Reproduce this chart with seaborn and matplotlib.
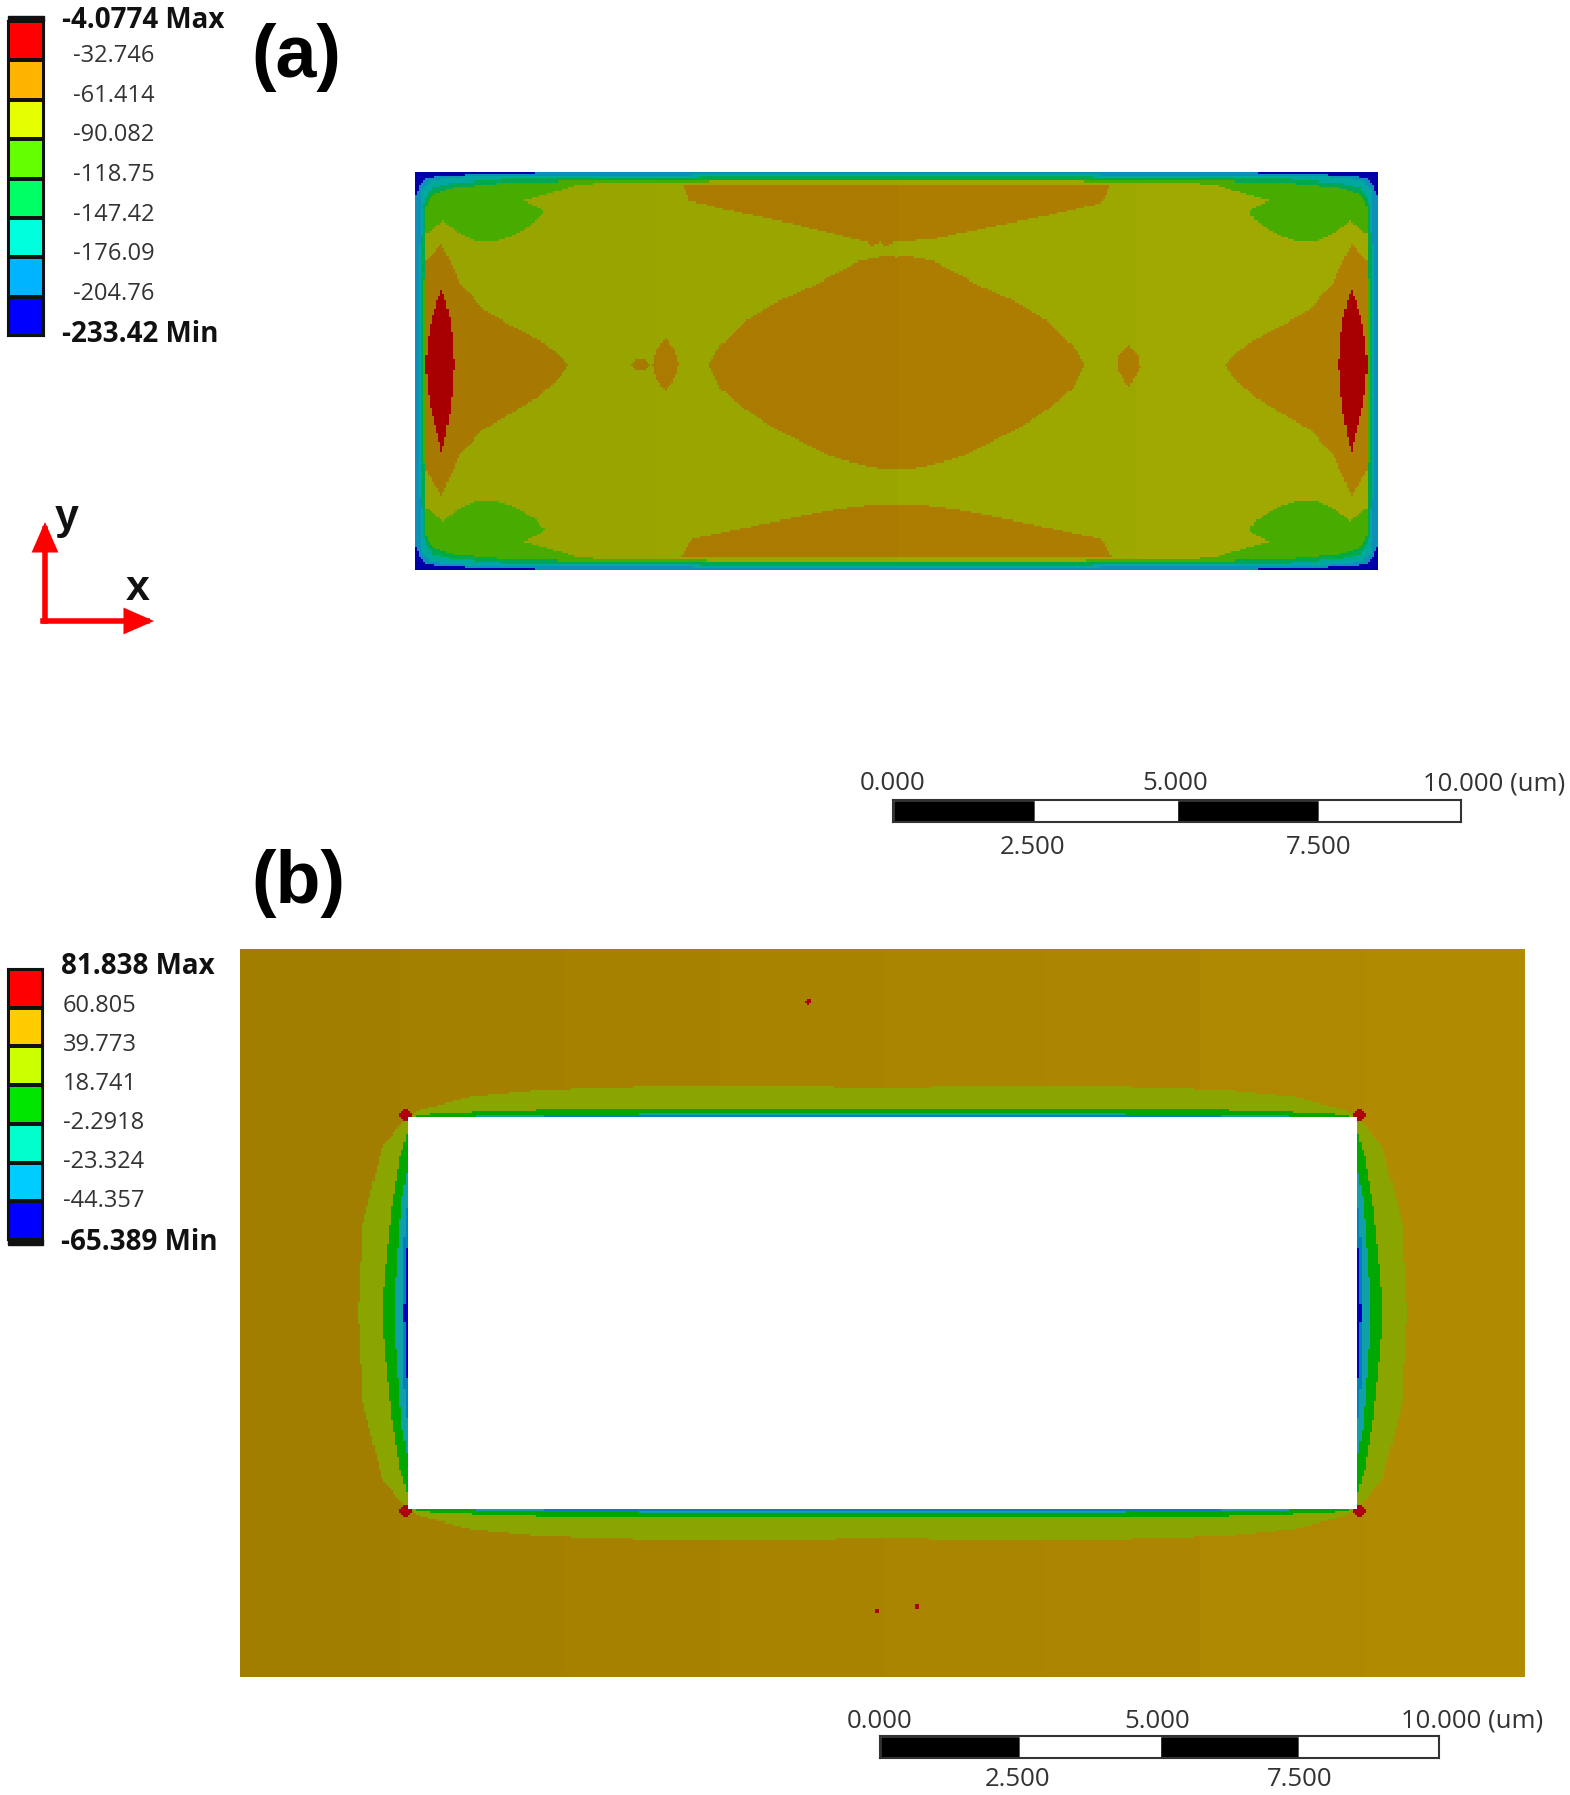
import numpy as np
import seaborn as sns
import matplotlib
matplotlib.use('Agg')
import matplotlib.pyplot as plt
from matplotlib.colors import ListedColormap
from matplotlib.patches import Rectangle
from matplotlib.path import Path

sns.set_theme(style='white')
plt.rcParams['font.family'] = ['Open Sans', 'DejaVu Sans']

# legends
a_legend_labels = ['-4.0774 Max', '-32.746', '-61.414', '-90.082', '-118.75', '-147.42', '-176.09', '-204.76', '-233.42 Min']
a_legend_colors = ['#ff0000', '#ffb400', '#e6ff00', '#64ff00', '#00ff64', '#00ffdc', '#00b4ff', '#0000ff']
b_legend_labels = ['81.838 Max', '60.805', '39.773', '18.741', '-2.2918', '-23.324', '-44.357', '-65.389 Min']
b_legend_colors = ['#ff0000', '#ffcc00', '#ccff00', '#00e600', '#00ffcc', '#00ccff', '#0000ff']

# scale bars
scale_ticks = [0, 2.5, 5, 7.5]
scale_labels = ['0.000', '2.500', '5.000', '7.500', '10.000 (um)']

# panel a, stress bands as displayed, um from the top left of the film
a_w, a_h = 17.0, 7.0
a_colors = ['#0000a8', '#0c90b8', '#00a8a0', '#00a850', '#48ab00', '#98a400', '#a87900', '#a80000',
            '#9aa600', '#9ca700', '#9fa900', '#aa7b00', '#ac7d00', '#ae7f00']
a_tone_edges = [4.25, 8.5, 12.75]
a_ring1 = [(8.5, -.05), (2.2, -.05), (2.1, .03), (1.0, .05), (.4, .08), (.2, .12), (.08, .25), (.03, .4), (-.05, .5), (-.05, 3.5)]
a_ring2 = [(8.5, .05), (2.0, .06), (1.0, .08), (.5, .12), (.25, .16), (.13, .28), (.1, .5), (.07, 3.5)]
a_ring3 = [(8.5, .08), (3, .1), (1.5, .13), (.6, .2), (.3, .28), (.17, .5), (.13, 1), (.12, 3.5)]
a_ring4 = [(8.5, .13), (3, .15), (1.5, .2), (.7, .27), (.3, .4), (.2, .6), (.17, 1.1), (.16, 3.5)]
a_olive = [(8.5, .16), (3.5, .17), (2.85, .235), (1.94, .5), (2.3, .7), (2.09, .91), (1.74, 1.12), (1.44, 1.22),
           (1.09, 1.22), (.74, 1.06), (.5, .85), (.2, 1.09), (.19, 2.15), (.18, 3.5)]
a_top_lobe = [(4.735, .21), (4.82, .5), (5.6, .68), (6.8, .94), (8.0, 1.24), (8.09, 1.31), (8.2, 1.22), (8.3, 1.31),
              (8.45, 1.24), (9.2, 1.17), (10, 1.0), (11, .8), (12.1, .55), (12.2, .42), (12.27, .21)]
a_bottom_lobe = [(4.7, 6.77), (4.75, 6.7), (4.85, 6.47), (6.2, 6.18), (7.38, 5.94), (8.09, 5.85), (8.5, 5.85)]
a_lens = [(5.18, 3.38), (5.38, 3.06), (5.85, 2.62), (6.32, 2.32), (7.09, 1.97), (7.85, 1.56), (8.38, 1.47), (8.5, 1.5)]
a_lens_low = [(5.18, 3.38), (5.38, 3.8), (5.8, 4.15), (6.32, 4.5), (7.32, 5.0), (8.09, 5.2), (8.5, 5.22)]
a_wedge = [(.47, 1.26), (.79, 1.94), (1.2, 2.41), (1.5, 2.59), (2.32, 3.03), (2.7, 3.38), (2.56, 3.62), (2.15, 3.97),
           (1.62, 4.29), (1.2, 4.53), (.79, 4.97), (.47, 5.7), (.2, 5.26), (.19, 3.58), (.2, 1.56)]
a_core = [(.47, 2.06), (.55, 2.3), (.62, 2.6), (.67, 3.0), (.69, 3.38), (.67, 3.8), (.62, 4.2), (.55, 4.6), (.47, 4.94),
          (.39, 4.6), (.29, 4.2), (.22, 3.8), (.19, 3.38), (.22, 3.0), (.29, 2.6), (.38, 2.3)]
a_dot1 = [(3.82, 3.39), (3.9, 3.3), (4.05, 3.29), (4.15, 3.38), (4.05, 3.48), (3.9, 3.49)]
a_dot2 = [(4.42, 2.91), (4.26, 3.15), (4.2, 3.38), (4.26, 3.65), (4.42, 3.85), (4.59, 3.62), (4.66, 3.38), (4.59, 3.15)]
a_dot3 = [(12.6, 3.04), (12.4, 3.25), (12.39, 3.45), (12.6, 3.79), (12.8, 3.45), (12.78, 3.25)]

# panel b, substrate around the film
b_w, b_h = 23.0, 13.0
b_colors = ['#a27e00', '#8aa400', '#00a800', '#10a0a8', '#0080c0', '#0000c0', '#b00010',
            '#a48000', '#a68100', '#a88300', '#aa8500', '#ac8600', '#ae8800', '#b08a00']
b_tone_edges = [2.9, 5.8, 8.6, 11.5, 14.4, 17.2, 20.1]
b_hole = (3.0, 20.0, 3.0, 10.0)
b_ring1 = [(11.5, 2.48), (9.5, 2.44), (7.13, 2.46), (5.34, 2.52), (4.15, 2.64), (3.2, 2.88), (2.97, 3.02), (2.84, 3.18),
           (2.54, 3.54), (2.36, 4.25), (2.2, 4.9), (2.15, 5.92), (2.12, 6.5)]
b_ring2 = [(11.5, 2.84), (6.5, 2.85), (4.75, 2.88), (3.44, 2.94), (3.0, 3.0), (2.98, 3.3), (2.87, 3.72), (2.72, 4.6),
           (2.58, 5.92), (2.55, 6.5)]
b_ring3 = [(11.5, 2.93), (5.46, 2.95), (3.5, 3.0), (3.0, 3.9), (2.95, 4.2), (2.9, 4.43), (2.79, 5.92), (2.77, 6.5)]
b_ring4 = [(11.5, 2.97), (6, 2.97), (4.5, 3.0), (3.0, 4.4), (2.94, 5.2), (2.92, 6.5)]
b_ring5 = [(11.5, 3.0), (3.0, 3.0), (3.0, 5.0), (2.96, 5.7), (2.94, 6.5)]
b_spot_x = [2.97, 20.03, 2.97, 20.03, 10.18, 11.41, 12.11]
b_spot_y = [2.97, 2.97, 10.03, 10.03, .94, 11.82, 11.74]
b_spot_r = [.13, .13, .13, .13, .06, .06, .05]

FIG_W, FIG_H = 1570, 1795
CELLS = 27


def ring(q, w, h):
    # quarter outline, center top to center left, mirrored to the other three
    return (q + [(x, h - y) for x, y in q[::-1]] + [(w - x, h - y) for x, y in q]
            + [(w - x, y) for x, y in q[::-1]])


def mirror(half, w):
    return half + [(w - x, y) for x, y in half[::-1]]


def make_grid(w, h):
    nx, ny = int(w * CELLS), int(h * CELLS)
    xx, yy = np.meshgrid((np.arange(nx) + .5) / CELLS, (np.arange(ny) + .5) / CELLS)
    return xx, yy, np.zeros((ny, nx))


def paint(grid, xx, yy, outline, level):
    pts = np.column_stack([xx.ravel(), yy.ravel()])
    grid[Path(outline).contains_points(pts).reshape(grid.shape)] = level


def px_axes(fig, x0, x1, y0, y1):
    return fig.add_axes([x0 / FIG_W, 1 - y1 / FIG_H, (x1 - x0) / FIG_W, (y1 - y0) / FIG_H])


def stress_map(ax, grid, colors, mask=None):
    sns.heatmap(grid, ax=ax, cmap=ListedColormap(colors), vmin=-.5, vmax=len(colors) - .5, cbar=False,
                xticklabels=False, yticklabels=False, mask=mask)


def legend_bar(fig, colors, x0, x1, y0, y1):
    ax = px_axes(fig, x0, x1, y0, y1)
    sns.heatmap(np.arange(len(colors)).reshape(-1, 1), ax=ax, cmap=ListedColormap(colors), cbar=False,
                xticklabels=False, yticklabels=False, linewidths=1.5, linecolor='#111111')
    for s in ax.spines.values():
        s.set_visible(True)
        s.set_color('#111111')
        s.set_linewidth(1.5)


def scale_bar(fig, x0, x1, y0, y1):
    ax = px_axes(fig, x0, x1, y0, y1)
    ax.barh([0] * 4, [2.5] * 4, left=scale_ticks, height=1, color=['black', 'white', 'black', 'white'])
    ax.set_xlim(0, 10)
    ax.set_ylim(-.5, .5)
    ax.set_xticks([])
    ax.set_yticks([])
    for s in ax.spines.values():
        s.set_visible(True)
        s.set_color('#333333')
        s.set_linewidth(1.5)


fig = plt.figure(figsize=(FIG_W / 100, FIG_H / 100), dpi=100)
fig.patch.set_facecolor('white')

# panel a map
xx, yy, grid = make_grid(a_w, a_h)
for level, q in enumerate([a_ring1, a_ring2, a_ring3, a_ring4, a_olive], start=1):
    paint(grid, xx, yy, ring(q, a_w, a_h), level)
paint(grid, xx, yy, a_top_lobe, 6)
paint(grid, xx, yy, mirror(a_bottom_lobe, a_w), 6)
paint(grid, xx, yy, mirror(a_lens, a_w) + [(a_w - x, y) for x, y in a_lens_low[1:]] + [(x, y) for x, y in a_lens_low[:0:-1]], 6)
paint(grid, xx, yy, a_wedge, 6)
paint(grid, xx, yy, [(a_w - x, y) for x, y in a_wedge], 6)
paint(grid, xx, yy, a_dot1, 6)
paint(grid, xx, yy, a_dot2, 6)
paint(grid, xx, yy, a_dot3, 6)
paint(grid, xx, yy, a_core, 7)
paint(grid, xx, yy, [(a_w - x, y) for x, y in a_core], 7)
# colours drift a little lighter to the right
for i, edge in enumerate(a_tone_edges):
    grid[np.isin(grid, [5, 8, 9, 10]) & (xx > edge)] = 8 + i
    grid[np.isin(grid, [6, 11, 12, 13]) & (xx > edge)] = 11 + i
stress_map(px_axes(fig, 415, 1378, 172, 570), grid, a_colors)

# panel b map
xx, yy, grid = make_grid(b_w, b_h)
for i, edge in enumerate(b_tone_edges):
    grid[xx > edge] = 7 + i
for level, q in enumerate([b_ring1, b_ring2, b_ring3, b_ring4, b_ring5], start=1):
    paint(grid, xx, yy, ring(q, b_w, b_h), level)
for x, y, r in zip(b_spot_x, b_spot_y, b_spot_r):
    paint(grid, xx, yy, [(x - r, y), (x, y - r), (x + r, y), (x, y + r)], 6)
hole = (xx > b_hole[0]) & (xx < b_hole[1]) & (yy > b_hole[2]) & (yy < b_hole[3])
stress_map(px_axes(fig, 240, 1525, 949, 1677), grid, b_colors, mask=hole)

legend_bar(fig, a_legend_colors, 8, 44, 21, 336)
legend_bar(fig, b_legend_colors, 8, 43, 969, 1240)
scale_bar(fig, 893, 1461, 800, 822)
scale_bar(fig, 880, 1439, 1736, 1758)

# overlay in image pixels for the annotations
top = fig.add_axes([0, 0, 1, 1], facecolor='none')
top.set_xlim(0, FIG_W)
top.set_ylim(FIG_H, 0)
top.axis('off')

top.add_patch(Rectangle((8, 16), 36, 5, color='#111111'))
top.add_patch(Rectangle((8, 1240), 35, 5, color='#111111'))

a_y = [20, 56, 96, 135, 175, 215, 254, 294, 334]
for i, (lab, y) in enumerate(zip(a_legend_labels, a_y)):
    bold = i in (0, len(a_y) - 1)
    top.text(62 if bold else 73, y, lab, fontsize=20 if bold else 17, fontweight='bold' if bold else 'normal',
             color='#111111' if bold else '#333333', va='center', ha='left')
b_y = [967, 1006, 1045, 1084, 1123, 1162, 1201, 1243]
for i, (lab, y) in enumerate(zip(b_legend_labels, b_y)):
    bold = i in (0, len(b_y) - 1)
    top.text(61 if bold else 63, y, lab, fontsize=20 if bold else 17, fontweight='bold' if bold else 'normal',
             color='#111111' if bold else '#333333', va='center', ha='left')

for x, y, lab, ha in [(893, 784, scale_labels[0], 'center'), (1033, 847, scale_labels[1], 'center'),
                      (1175, 784, scale_labels[2], 'center'), (1319, 847, scale_labels[3], 'center'),
                      (1565, 784, scale_labels[4], 'right'),
                      (880, 1721, scale_labels[0], 'center'), (1018, 1780, scale_labels[1], 'center'),
                      (1157, 1721, scale_labels[2], 'center'), (1300, 1780, scale_labels[3], 'center'),
                      (1543, 1721, scale_labels[4], 'right')]:
    top.text(x, y, lab, fontsize=18.5, color='#333333', ha=ha, va='center')

top.text(251, 57, '(a)', fontsize=53, fontweight='bold', family='Liberation Sans', color='#000000', va='center')
top.text(251, 883, '(b)', fontsize=53, fontweight='bold', family='Liberation Sans', color='#000000', va='center')
top.text(67, 518, 'y', fontsize=31, fontweight='bold', family='Liberation Sans', color='#111111', ha='center', va='center')
top.text(138, 589, 'x', fontsize=31, fontweight='bold', family='Liberation Sans', color='#111111', ha='center', va='center')

arrow = dict(arrowstyle='-|>,head_length=0.75,head_width=0.33', mutation_scale=20, color='#ff0000', lw=4,
             shrinkA=0, shrinkB=0, joinstyle='miter', capstyle='projecting')
top.annotate('', xy=(45, 522), xytext=(45, 621), arrowprops=arrow)
top.annotate('', xy=(154, 621), xytext=(43, 621), arrowprops=arrow)

fig.savefig('out.png', dpi=100)
